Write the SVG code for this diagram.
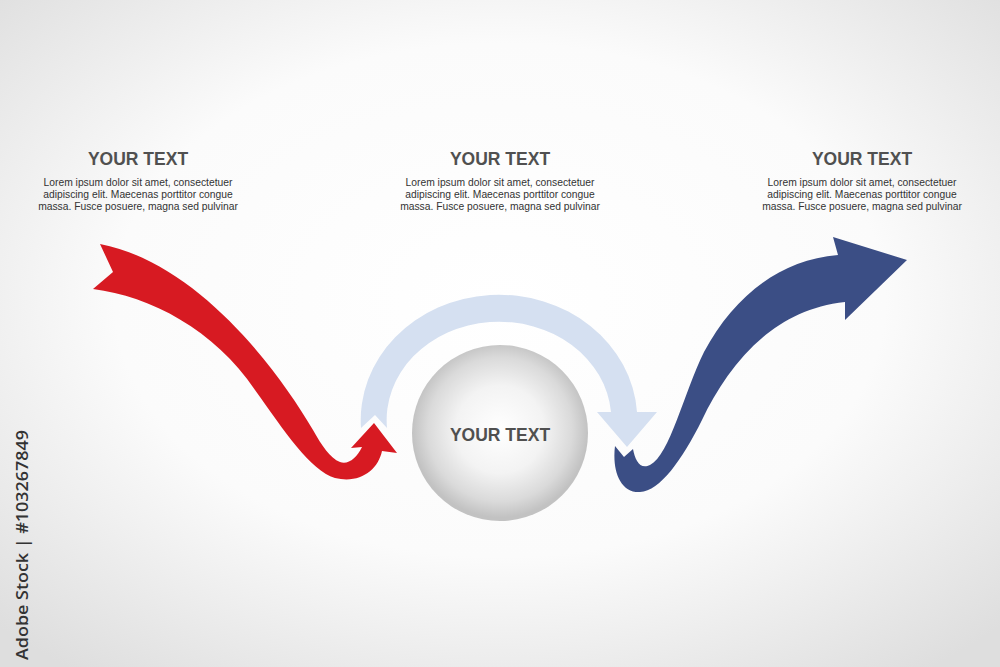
<svg xmlns="http://www.w3.org/2000/svg" width="1000" height="667" viewBox="0 0 1000 667">
  <defs>
    <radialGradient id="bg" cx="50%" cy="45%" r="70%">
      <stop offset="0" stop-color="#ffffff"/>
      <stop offset="0.55" stop-color="#fbfbfb"/>
      <stop offset="1" stop-color="#dedede"/>
    </radialGradient>
    <radialGradient id="sphere" cx="50%" cy="48%" r="50%">
      <stop offset="0" stop-color="#ffffff"/>
      <stop offset="0.5" stop-color="#f3f3f3"/>
      <stop offset="0.82" stop-color="#dadada"/>
      <stop offset="1" stop-color="#c2c2c2"/>
    </radialGradient>
    <style>
      .title { font-family: "Liberation Sans", Arial, sans-serif; font-weight: bold; font-size: 17.5px; fill: #505050; text-anchor: middle; }
      .body { font-family: "Liberation Sans", Arial, sans-serif; font-size: 10.3px; fill: #333333; text-anchor: middle; }
      .id { font-family: "Open Sans", "Liberation Sans", sans-serif; font-weight: 600; font-size: 16px; fill: #333333; }
    </style>
  </defs>
  <rect x="0" y="0" width="1000" height="667" fill="url(#bg)"/>

  <g id="text-left">
    <text class="title" x="138" y="165">YOUR TEXT</text>
    <text class="body" x="138" y="186">Lorem ipsum dolor sit amet, consectetuer</text>
    <text class="body" x="138" y="198">adipiscing elit. Maecenas porttitor congue</text>
    <text class="body" x="138" y="210">massa. Fusce posuere, magna sed pulvinar</text>
  </g>
  <g id="text-middle">
    <text class="title" x="500" y="165">YOUR TEXT</text>
    <text class="body" x="500" y="186">Lorem ipsum dolor sit amet, consectetuer</text>
    <text class="body" x="500" y="198">adipiscing elit. Maecenas porttitor congue</text>
    <text class="body" x="500" y="210">massa. Fusce posuere, magna sed pulvinar</text>
  </g>
  <g id="text-right">
    <text class="title" x="862" y="165">YOUR TEXT</text>
    <text class="body" x="862" y="186">Lorem ipsum dolor sit amet, consectetuer</text>
    <text class="body" x="862" y="198">adipiscing elit. Maecenas porttitor congue</text>
    <text class="body" x="862" y="210">massa. Fusce posuere, magna sed pulvinar</text>
  </g>

  <g id="connectors">
    <path id="arc-arrow" fill="#d5e0f1" d="M 361 428 A 138 125 0 0 1 637 412 L 657 412 L 627 447 L 597 412 L 611 412 A 112 98 0 0 0 387 428 L 375 415 Z"/>
    <path id="red-arrow" fill="#d71a22" d="M 100 244 L 113 272 L 93 289 C 150 296, 215 330, 255 390 C 285 432, 310 470, 335 478 C 360 484, 378 470, 382 451 L 397 453 L 374 423 L 351 448 L 362 447 C 357 458, 348 465, 340 462 C 330 458, 322 446, 313 430 C 275 365, 195 262, 100 244 Z"/>
    <path id="blue-arrow" fill="#3b4e85" d="M 615 446 C 612 470, 620 493, 640 492 C 660 491, 682 460, 702 420 C 727 368, 770 310, 845 302 L 845 320 L 907 260 L 833 237 L 838 255 C 778 260, 733 298, 704 352 C 684 392, 670 455, 650 465 C 640 470, 635 460, 633 449 L 624 457 Z"/>
  </g>

  <g id="center-node">
    <circle cx="500" cy="433" r="88" fill="url(#sphere)"/>
    <text class="title" x="500" y="441">YOUR TEXT</text>
  </g>

  <text class="id" transform="translate(28,660) rotate(-90)" textLength="230" lengthAdjust="spacingAndGlyphs">Adobe Stock | #103267849</text>
</svg>
